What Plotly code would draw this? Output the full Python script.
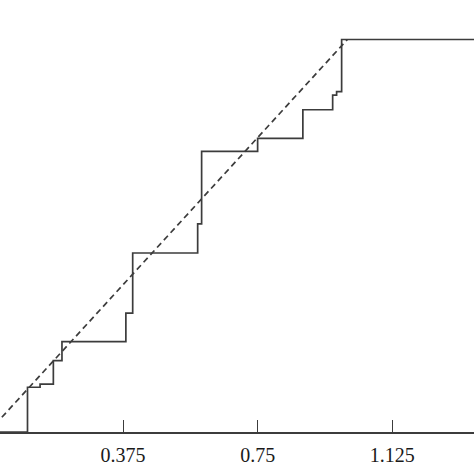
import plotly.graph_objects as go

step_x = [0.0, 0.109, 0.144, 0.181, 0.205, 0.383, 0.402, 0.583, 0.594, 0.75, 0.876, 0.959, 0.970, 0.984, 1.5]
step_y = [0.0, 0.114, 0.122, 0.182, 0.230, 0.303, 0.456, 0.530, 0.715, 0.748, 0.821, 0.858, 0.867, 1.0, 1.0]

# Reference diagonal
diag_x = [0.0, 1.0]
diag_y = [0.0, 1.0]

tick_vals = [0.375, 0.75, 1.125]
tick_text = ["0.375", "0.75", "1.125"]

line_col = "#3c3c3c"

fig = go.Figure()
fig.add_trace(go.Scatter(x=step_x, y=step_y, mode="lines",
                         line=dict(shape="hv", color=line_col, width=1.7),
                         showlegend=False, hoverinfo="skip"))
fig.add_trace(go.Scatter(x=diag_x, y=diag_y, mode="lines",
                         line=dict(color=line_col, width=1.7, dash="6px,4px"),
                         showlegend=False, hoverinfo="skip"))

fig.update_layout(
    width=474, height=474,
    margin=dict(l=0, r=0, t=0, b=42),
    paper_bgcolor="white", plot_bgcolor="white",
    font=dict(family="Liberation Serif, Times New Roman, serif", size=20, color="#1a1a1a"),
    xaxis=dict(range=[0.0324, 1.3527], tickvals=tick_vals, ticktext=tick_text,
               ticks="inside", ticklen=12, tickwidth=1.2, tickcolor=line_col,
               ticklabelstandoff=4,
               showline=True, linecolor=line_col, linewidth=1.8,
               showgrid=False, zeroline=False),
    yaxis=dict(range=[0, 1.1006], showticklabels=False, ticks="",
               showline=False, showgrid=False, zeroline=False),
)

fig.write_html("out.html", config={"displayModeBar": False},
               post_script="document.body.style.margin='0';document.body.style.overflow='hidden';")
